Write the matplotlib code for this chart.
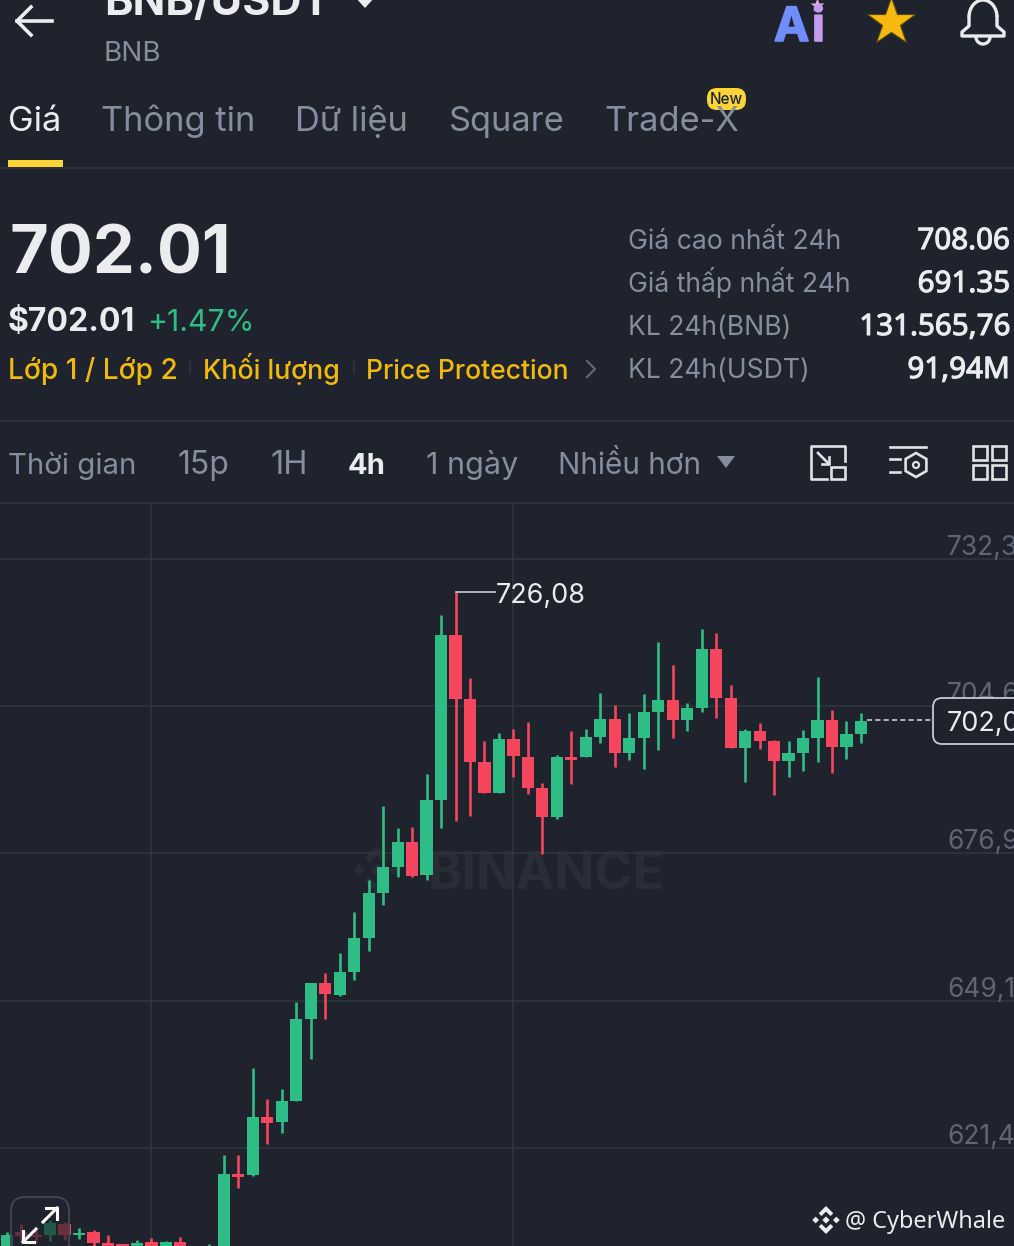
import numpy as np
import matplotlib
matplotlib.use('Agg')
import matplotlib.pyplot as plt
import matplotlib.patheffects as pe
from matplotlib.patches import FancyBboxPatch, Polygon, Rectangle, RegularPolygon, Circle, Arc

plt.rcParams['font.family'] = ['Inter', 'Noto Sans', 'DejaVu Sans']

# candle values
opens = [596.54, 605.58, 605.01, 605.01, 607.08, 605.01, 605.58, 603.50, 603.32, 602.19,
         603.69, 602.19, 603.69, 601.06, 598.42, 598.42, 616.49, 616.31, 627.22, 626.28,
         630.24, 645.67, 652.45, 650.19, 654.52, 660.92, 669.39, 674.29, 678.99, 672.78,
         686.90, 717.96, 705.91, 694.05, 688.22, 698.38, 694.99, 689.16, 683.70, 694.99,
         694.99, 698.76, 702.15, 695.75, 698.57, 703.47, 705.73, 701.96, 704.22, 715.33,
         706.10, 696.69, 699.89, 698.01, 694.24, 695.75, 698.57, 701.96, 696.88, 699.33]
highs = [605.58, 607.08, 605.95, 607.83, 607.46, 606.33, 605.95, 605.01, 603.32, 604.07,
         604.45, 603.88, 604.63, 602.56, 603.32, 620.07, 620.07, 636.45, 630.61, 632.50,
         648.87, 652.45, 654.33, 658.10, 665.81, 671.84, 685.77, 681.63, 681.82, 691.79,
         721.73, 726.08, 709.87, 698.01, 699.51, 700.26, 701.58, 690.10, 695.37, 699.89,
         700.26, 707.04, 704.79, 703.28, 706.86, 716.65, 712.32, 705.16, 719.09, 718.34,
         708.46, 700.26, 701.39, 698.19, 698.01, 700.08, 709.98, 703.85, 701.77, 703.28]
lows = [594.66, 603.69, 603.50, 603.88, 604.07, 604.26, 602.56, 601.43, 601.06, 601.25,
        601.43, 601.06, 600.68, 600.30, 597.29, 597.48, 613.86, 616.12, 622.14, 624.21,
        630.24, 638.14, 645.67, 650.00, 653.01, 658.47, 667.13, 672.40, 672.40, 671.84,
        681.63, 682.95, 683.89, 688.22, 688.22, 691.23, 688.03, 676.73, 683.32, 689.91,
        694.99, 697.63, 693.11, 694.43, 692.74, 696.31, 698.57, 699.89, 703.47, 702.34,
        696.69, 690.29, 696.50, 687.84, 691.23, 692.36, 694.05, 691.98, 694.61, 697.63]
closes = [605.02, 604.82, 604.63, 607.27, 605.01, 605.39, 603.50, 602.38, 602.19, 603.50,
          602.19, 603.69, 601.81, 601.81, 602.19, 616.49, 615.93, 627.22, 626.09, 630.24,
          645.67, 652.45, 650.38, 654.52, 660.92, 669.39, 674.29, 678.99, 672.59, 686.90,
          717.96, 705.91, 694.05, 688.22, 698.38, 695.18, 689.16, 683.70, 694.99, 694.43,
          698.76, 702.15, 695.75, 698.57, 703.47, 705.73, 701.96, 704.22, 715.33, 706.10,
          696.69, 699.89, 698.01, 694.24, 695.75, 698.57, 701.96, 696.88, 699.33, 701.77]

price_ticks = [732.3, 704.6, 676.9, 649.1, 621.4]
price_labels = ['732,3', '704,6', '676,9', '649,1', '621,4']
grid_candles = [10, 35]
last_price = 702.0
last_label = '702,0'
high_label = '726,08'
high_candle = 31

tabs = ['Giá', 'Thông tin', 'Dữ liệu', 'Square', 'Trade-X']
tab_x = [8, 101, 295, 449, 604]
periods = ['Thời gian', '15p', '1H', '4h', '1 ngày', 'Nhiều hơn']
period_x = [8, 178, 270, 348, 426, 558]
period_size = [21.2, 23, 23.5, 21, 22, 21.4]
stat_names = ['Giá cao nhất 24h', 'Giá thấp nhất 24h', 'KL 24h(BNB)', 'KL 24h(USDT)']
stat_values = ['708.06', '691.35', '131.565,76', '91,94M']
stat_y = [249, 292, 335, 378]
links = ['Lớp 1 / Lớp 2', 'Khối lượng', 'Price Protection']
link_x = [8, 203, 366]
link_size = [20.2, 19.3, 19.1]

BG = '#1e232d'
GREEN = '#2ebd85'
RED = '#f6465d'
GREY = '#848e9c'
WHITE = '#eaecef'
LINE = '#2f3540'
YELLOW = '#f0b90b'


def logo(axes, cx, cy, r, col):
    axes.add_patch(RegularPolygon((cx, cy), 4, radius=r * 0.26, fc=col, ec='none'))
    axes.add_patch(RegularPolygon((cx - r * 0.74, cy), 4, radius=r * 0.24, fc=col, ec='none'))
    axes.add_patch(RegularPolygon((cx + r * 0.74, cy), 4, radius=r * 0.24, fc=col, ec='none'))
    for s in [-1, 1]:
        pts = [(0, r), (0.52 * r, 0.48 * r), (0.32 * r, 0.28 * r), (0, 0.6 * r),
               (-0.32 * r, 0.28 * r), (-0.52 * r, 0.48 * r)]
        axes.add_patch(Polygon([(cx + a, cy + s * b) for a, b in pts], fc=col, ec='none'))


fig = plt.figure(figsize=(10.14, 12.46), dpi=100, facecolor=BG)

# watermark goes under the candles
back = fig.add_axes([0, 0, 1, 1], facecolor=BG, zorder=0)
back.set_xlim(0, 1014)
back.set_ylim(1246, 0)
back.axis('off')
back.text(428, 889, 'BINANCE', color='#282d38', fontsize=37.5, fontweight='bold', va='baseline')
logo(back, 377, 870, 24, '#282d38')

# chart part
ax = fig.add_axes([0, 0, 1, 743 / 1246], facecolor='none', zorder=1)
ax.set_xlim(-0.46, 69.57)
ax.set_ylim(602.94, 742.81)
for s in ax.spines.values():
    s.set_visible(False)
ax.set_xticks([])
ax.set_yticks([])
for p in price_ticks:
    ax.axhline(p, color=LINE, lw=1.2, zorder=1)
for c in grid_candles:
    ax.axvline(c, color=LINE, lw=1.2, zorder=1)

idx = np.arange(len(opens))
o = np.array(opens)
c = np.array(closes)
colors = [GREEN if c[i] >= o[i] else RED for i in idx]
ax.vlines(idx, lows, highs, colors=colors, lw=1.9, zorder=3)
ax.bar(idx, np.abs(c - o), bottom=np.minimum(o, c), width=0.84, color=colors, zorder=3)

for p, lab in zip(price_ticks, price_labels):
    ax.annotate(lab, (947 / 1014, p), xycoords=ax.get_yaxis_transform(), xytext=(0, -1.5),
                textcoords='offset points', color='#5e6673', fontsize=19, va='bottom', ha='left')

# highest price marker
ax.plot([high_candle, high_candle + 2.7], [highs[high_candle]] * 2, color='#c8ccd2', lw=1.2, zorder=4)
ax.annotate(high_label, (high_candle + 2.8, highs[high_candle]), xytext=(0, -3), textcoords='offset points',
            color=WHITE, fontsize=19.5, va='center', zorder=4)

# last price line
ax.plot([59.4, 64], [last_price, last_price], color='#c8ccd2', lw=1.2, ls=(0, (3, 2)), zorder=4)

# overlay with the app screen, pixel coordinates
ui = fig.add_axes([0, 0, 1, 1], facecolor='none', zorder=2)
ui.set_xlim(0, 1014)
ui.set_ylim(1246, 0)
ui.axis('off')

# value box
ui.add_patch(FancyBboxPatch((933, 698), 110, 46, boxstyle='round,pad=0,rounding_size=9', fc=BG, ec='#c8ccd2', lw=1.3))
ui.text(947, 731, last_label, color=WHITE, fontsize=19.5, va='baseline')

# header
ui.plot([17, 52], [21, 21], color=WHITE, lw=2.6)
ui.plot([31, 17, 31], [7, 21, 35], color=WHITE, lw=2.6)
ui.text(104, 15, 'BNB/USDT', color=WHITE, fontsize=31, fontweight='bold', va='baseline')
ui.add_patch(Polygon([[355, -3], [375, -3], [365, 8]], fc=WHITE, ec='none'))
ui.text(103, 61, 'BNB', color=GREY, fontsize=20, va='baseline')
stroke = [pe.withStroke(linewidth=1.2, foreground='#6f8dfb')]
ui.text(774, 41, 'A', color='#6f8dfb', fontsize=34, fontweight='bold', va='baseline', path_effects=stroke)
ui.text(812, 41, 'i', color='#c39cf0', fontsize=34, fontweight='bold', va='baseline',
        path_effects=[pe.withStroke(linewidth=1.2, foreground='#c39cf0')])
ui.plot([817], [5], marker='*', ms=10, color='#e3b0e0', mec='none')
ui.plot([891], [22], marker='*', ms=36, color='#f5b90f', mec='#5a4510', mew=0.8)
# bell
ui.add_patch(Arc((983, 17), 28, 34, theta1=180, theta2=360, color=WHITE, lw=2.4))
ui.plot([969, 969, 962, 962, 1004, 1004, 997, 997], [17, 26, 32, 36, 36, 32, 26, 17], color=WHITE, lw=2.4)
ui.add_patch(Arc((983, 37), 14, 14, theta1=0, theta2=180, color=WHITE, lw=2.4))

# tabs
for i, (t, x) in enumerate(zip(tabs, tab_x)):
    ui.text(x, 131, t, color=WHITE if i == 0 else GREY, fontsize=24.8, va='baseline')
ui.add_patch(Rectangle((8, 160), 55, 7, fc='#fcd535', ec='none'))
ui.add_patch(FancyBboxPatch((707, 88), 39, 22, boxstyle='round,pad=0,rounding_size=10', fc='#fcd535', ec='none'))
ui.text(726.5, 99.5, 'New', color='#1e232d', fontsize=11, fontweight='medium', ha='center', va='center')
for y in [168, 421, 503]:
    ui.plot([0, 1014], [y, y], color=LINE, lw=1.2)

# price block
ui.text(9, 273, '702.01', color=WHITE, fontsize=48, fontweight='bold', va='baseline')
ui.text(8, 331, '$702.01', color=WHITE, fontsize=23, fontweight='bold', va='baseline')
ui.text(147, 331, '+1.47%', color=GREEN, fontsize=21.8, va='baseline')
for t, x, fs in zip(links, link_x, link_size):
    ui.text(x, 379, t, color=YELLOW, fontsize=fs, fontweight='medium', va='baseline')
ui.plot([190, 190], [362, 372], color=LINE, lw=1.5)
ui.plot([354, 354], [362, 372], color=LINE, lw=1.5)
ui.plot([587, 595, 587], [361, 369, 377], color='#5e6673', lw=1.6)
bold_val = [pe.withStroke(linewidth=0.8, foreground=WHITE)]
for name, val, y in zip(stat_names, stat_values, stat_y):
    ui.text(628, y, name, color=GREY, fontsize=19.1, va='baseline')
    ui.text(1010, y, val, color=WHITE, fontsize=21.3, family='Noto Sans',
            ha='right', va='baseline', path_effects=bold_val)

# period bar
for t, x, fs in zip(periods, period_x, period_size):
    on = t == '4h'
    ui.text(x, 474, t, color=WHITE if on else GREY, fontsize=fs, fontweight='bold' if on else 'normal', va='baseline')
ui.add_patch(Polygon([[717, 456], [735, 456], [726, 468]], fc=GREY, ec='none'))

# toolbar icons
ic = '#dfe2e6'
ui.plot([845, 845, 811, 811, 827], [461, 446, 446, 479, 479], color=ic, lw=1.9)
ui.add_patch(Rectangle((831, 467), 14, 12, fc='none', ec=ic, lw=1.9))
ui.plot([818, 829], [453, 464], color=ic, lw=1.9)
ui.plot([822, 829, 829], [464, 464, 457], color=ic, lw=1.9)
ui.plot([890, 926], [447, 447], color=ic, lw=1.9)
ui.plot([890, 900], [459, 459], color=ic, lw=1.9)
ui.plot([890, 900], [472, 472], color=ic, lw=1.9)
ui.add_patch(RegularPolygon((916, 465), 6, radius=12, fc='none', ec=ic, lw=1.9))
ui.add_patch(Circle((916, 465), 3, fc='none', ec=ic, lw=1.6))
for x in [973, 992]:
    for y in [446, 465]:
        ui.add_patch(Rectangle((x, y), 14, 14, fc='none', ec=ic, lw=1.9))

# expand button
ui.add_patch(FancyBboxPatch((11, 1197), 58, 70, boxstyle='round,pad=0,rounding_size=14',
                            fc=BG, alpha=0.65, ec='none'))
ui.add_patch(FancyBboxPatch((11, 1197), 58, 70, boxstyle='round,pad=0,rounding_size=14',
                            fc='none', ec='#3f4653', lw=1.4))
ui.plot([43, 57], [1222, 1208], color='white', lw=2.2)
ui.plot([46, 57, 57], [1208, 1208, 1219], color='white', lw=2.2)
ui.plot([36, 23], [1229, 1242], color='white', lw=2.2)
ui.plot([23, 23, 34], [1231, 1242, 1242], color='white', lw=2.2)

# credit
logo(ui, 826, 1220, 14, WHITE)
ui.text(845, 1228, '@ CyberWhale', color=WHITE, fontsize=16.9, family='Noto Sans', va='baseline')

fig.savefig('out.png', dpi=100, facecolor=BG)
